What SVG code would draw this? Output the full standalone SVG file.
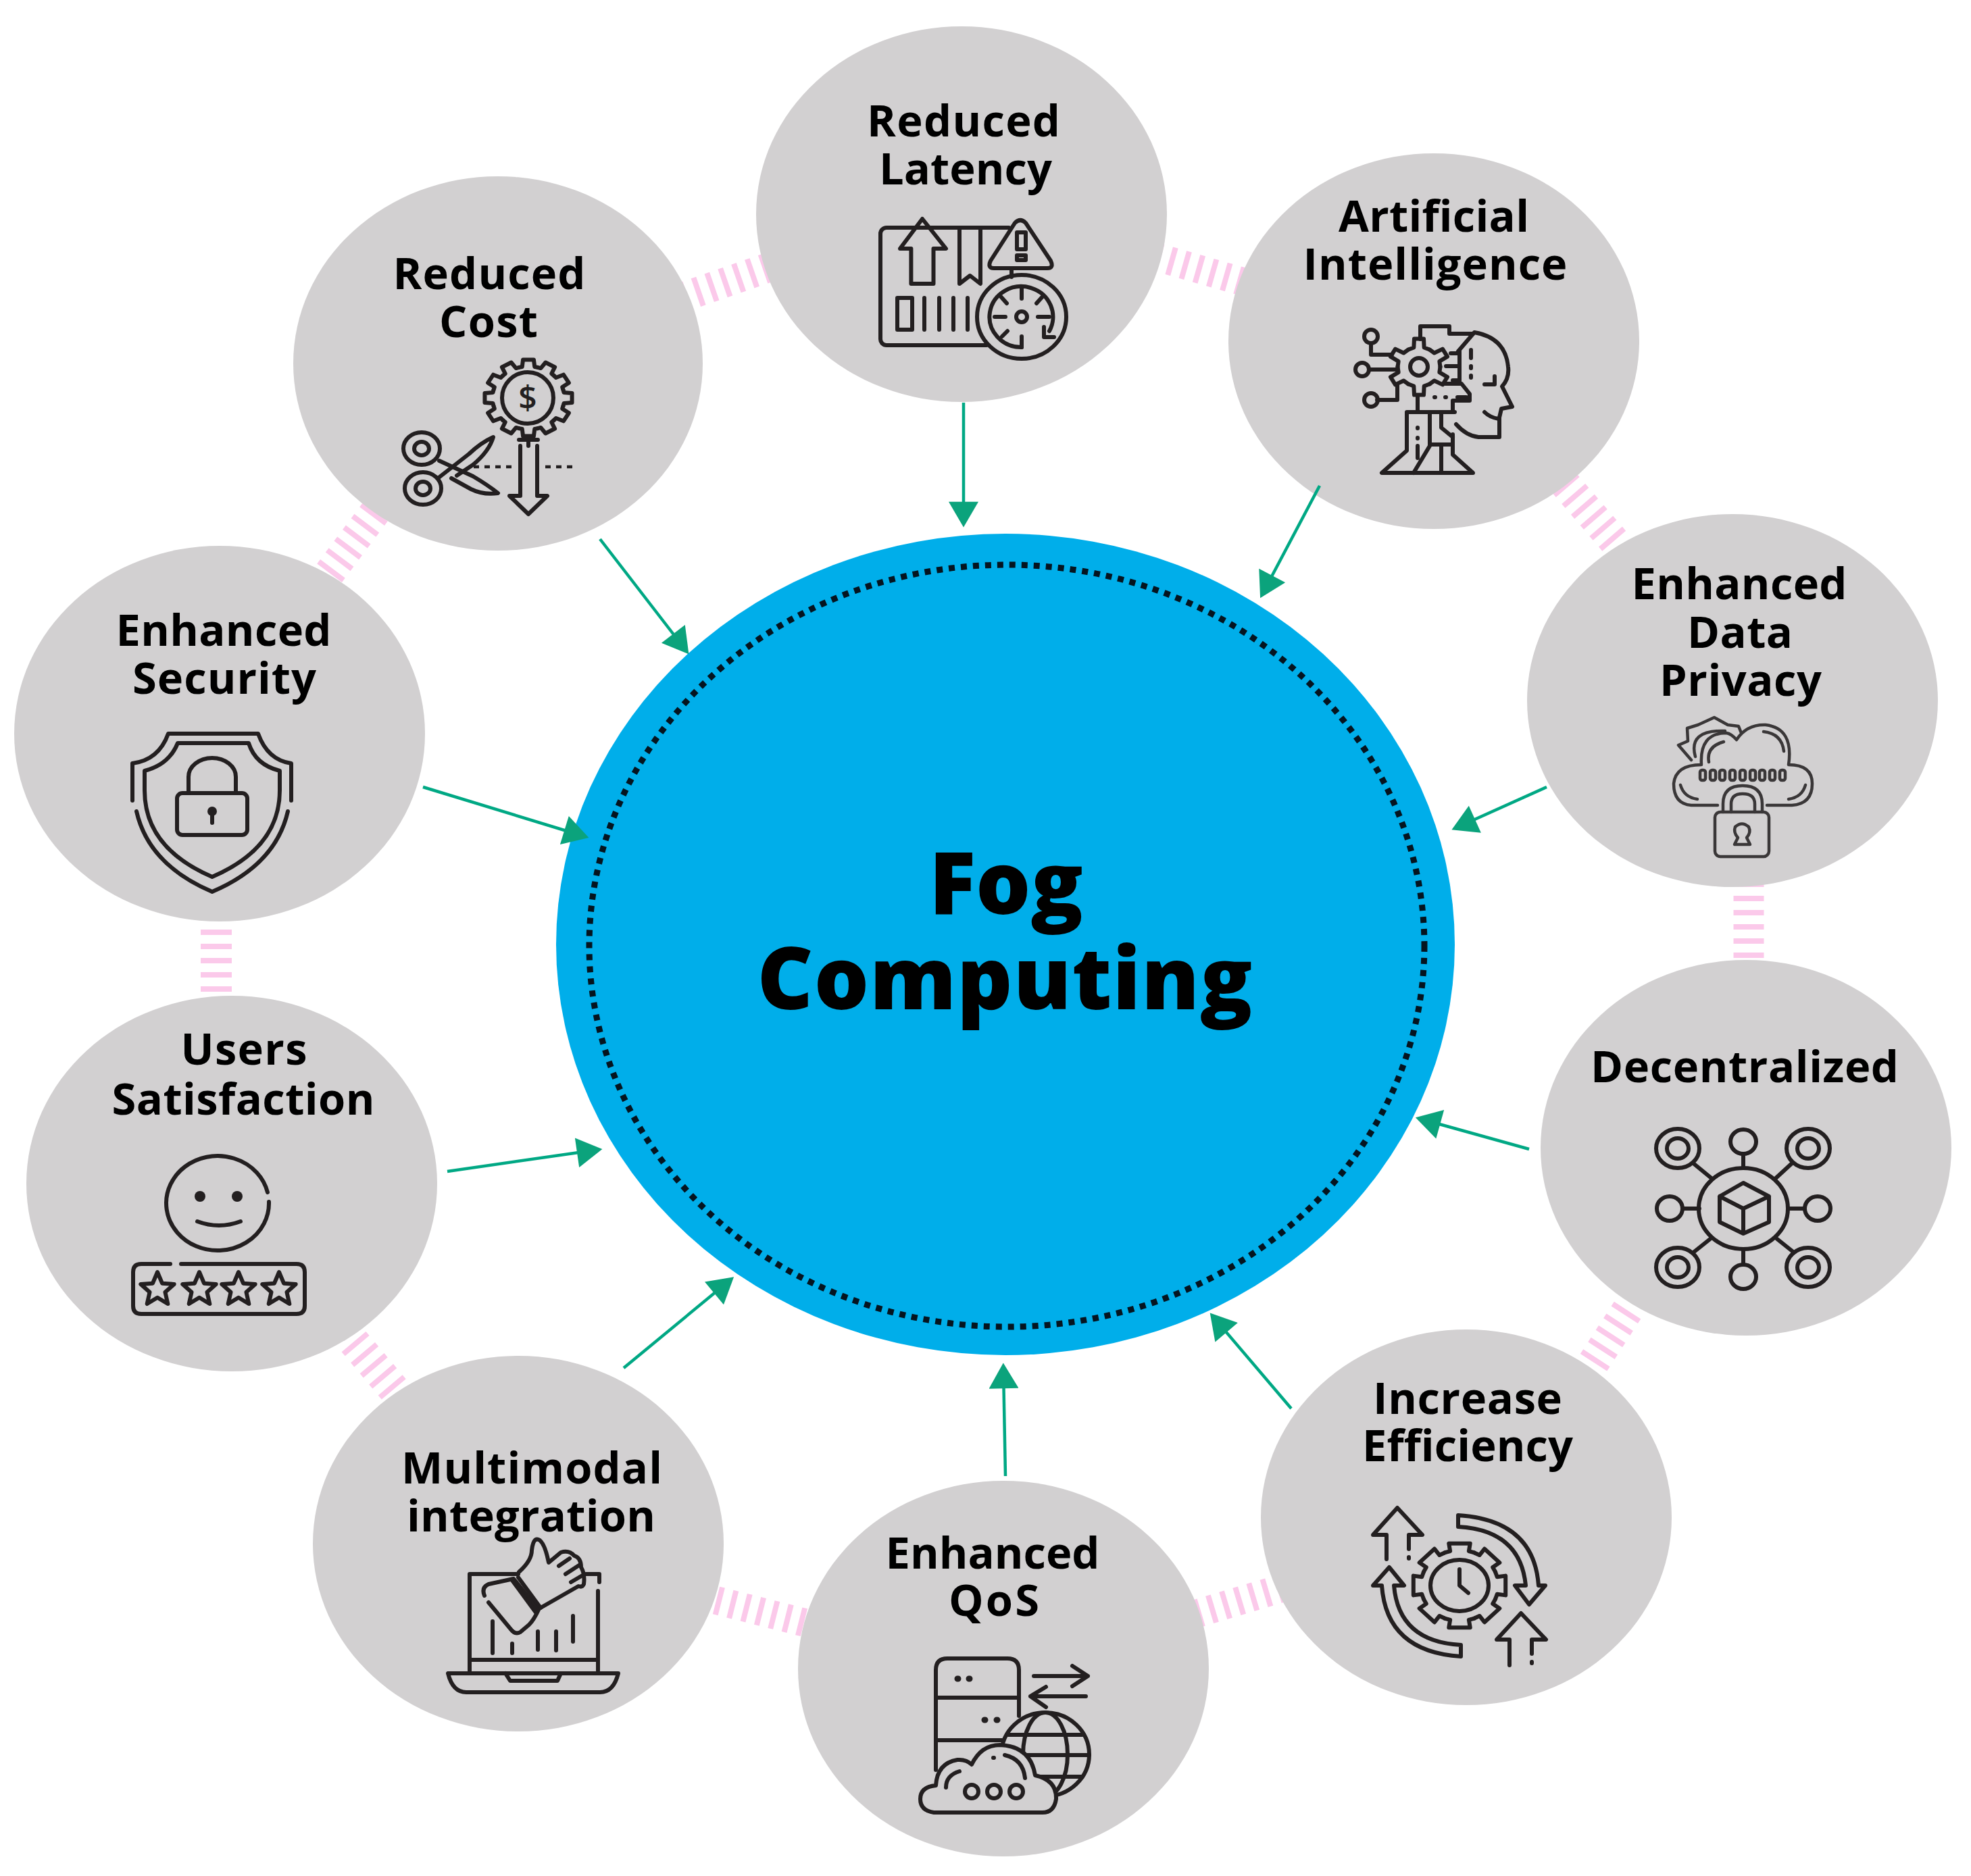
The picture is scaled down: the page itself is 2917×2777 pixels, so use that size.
<svg xmlns="http://www.w3.org/2000/svg" width="2917" height="2777" viewBox="0 0 2917 2777">
<style>
.bg{fill:#fff}
.n{fill:#d2d0d1}
.hub{fill:#00aeea}
.dots{fill:none;stroke:#05141f;stroke-width:9;stroke-dasharray:9 9}
.t{font-family:"Open Sans","Noto Sans",sans-serif;font-weight:700;font-size:65px;fill:#000;text-anchor:middle}
.h{font-family:"Open Sans","Noto Sans",sans-serif;font-weight:800;font-size:128px;fill:#000;text-anchor:middle}
.gp{fill:none;stroke:#231f20;stroke-width:6;stroke-linejoin:round;stroke-linecap:round;vector-effect:non-scaling-stroke}
.i path,.i rect,.i circle,.i ellipse,.i polyline,.i line,.i polygon{fill:none;stroke:#231f20;stroke-width:6;stroke-linejoin:round;stroke-linecap:round}
.i .f{fill:#231f20;stroke:none}
.i .g{fill:#d2d0d1}
.i .th{stroke-width:4.5;stroke:#3a3738}
.i .dt{stroke-dasharray:8 8;stroke-linecap:butt;stroke-width:4.5}
.ds{font-family:"Open Sans",sans-serif;font-weight:600;font-size:48px;fill:#231f20;text-anchor:middle}
.bar{fill:none;stroke:#fbc9ea;stroke-dasharray:8 13}
.ar{fill:none;stroke:#00a884;stroke-width:4.5}
</style>
<defs>
<marker id="ah" markerUnits="userSpaceOnUse" markerWidth="42" markerHeight="44" viewBox="0 0 36 42" refX="26" refY="21" orient="auto"><polygon points="0,0 36,21 0,42" fill="#0ba37c"/></marker>
<path id="s12" class="gp" d="M-21.2-79.2L-14.2-80.8-12.2-99.3 12.2-99.3 14.2-80.8 21.2-79.2"/>
<g id="g12"><use href="#s12"/><use href="#s12" transform="rotate(30)"/><use href="#s12" transform="rotate(60)"/><use href="#s12" transform="rotate(90)"/><use href="#s12" transform="rotate(120)"/><use href="#s12" transform="rotate(150)"/><use href="#s12" transform="rotate(180)"/><use href="#s12" transform="rotate(210)"/><use href="#s12" transform="rotate(240)"/><use href="#s12" transform="rotate(270)"/><use href="#s12" transform="rotate(300)"/><use href="#s12" transform="rotate(330)"/></g>
<path id="s8" class="gp" d="M-31.4-75.8L-19.8-79.6-22.5-97.4 22.5-97.4 19.8-79.6 31.4-75.8"/>
<g id="g8"><use href="#s8"/><use href="#s8" transform="rotate(45)"/><use href="#s8" transform="rotate(90)"/><use href="#s8" transform="rotate(135)"/><use href="#s8" transform="rotate(180)"/><use href="#s8" transform="rotate(225)"/><use href="#s8" transform="rotate(270)"/><use href="#s8" transform="rotate(315)"/></g>
<path id="s6" class="gp" d="M-35-60.6L-17-68-15.6-98.8 15.6-98.8 17-68 35-60.6"/>
<g id="g6"><use href="#s6"/><use href="#s6" transform="rotate(60)"/><use href="#s6" transform="rotate(120)"/><use href="#s6" transform="rotate(180)"/><use href="#s6" transform="rotate(240)"/><use href="#s6" transform="rotate(300)"/></g>
<polygon id="star" class="gp" points="0,-100 27,-36 95,-31 44,14 59,81 0,45 -59,81 -44,14 -95,-31 -27,-36"/>
</defs>
<rect class="bg" width="2917" height="2777"/>
<g id="connectors-links">
<line class="bar" stroke-width="44" x1="1010" y1="440" x2="1140" y2="395"/>
<line class="bar" stroke-width="42" x1="1710" y1="380" x2="1850" y2="420"/>
<line class="bar" stroke-width="46" x1="2315" y1="715" x2="2395" y2="808"/>
<line class="bar" stroke-width="45" x1="2588" y1="1305" x2="2588" y2="1430"/>
<line class="bar" stroke-width="47" x1="2420" y1="1922" x2="2350" y2="2030"/>
<line class="bar" stroke-width="42" x1="1770" y1="2389" x2="1900" y2="2350"/>
<line class="bar" stroke-width="42" x1="1060" y1="2369" x2="1195" y2="2403"/>
<line class="bar" stroke-width="47" x1="510" y1="1970" x2="590" y2="2065"/>
<line class="bar" stroke-width="46" x1="320" y1="1355" x2="320" y2="1485"/>
<line class="bar" stroke-width="46" x1="475" y1="865" x2="565" y2="745"/>
</g>
<g id="fog-computing">
<ellipse class="hub" cx="1488" cy="1398" rx="665" ry="608"/>
<ellipse class="dots" cx="1490" cy="1400" rx="618" ry="564"/>
<text class="h" x="1489" y="1353" textLength="228">Fog</text>
<text class="h" x="1487" y="1494" textLength="733">Computing</text>
</g>
<g id="reduced-latency">
<ellipse class="n" cx="1423" cy="317" rx="304" ry="278"/>
<text class="t" x="1426" y="202" textLength="286">Reduced</text>
<text class="t" x="1429" y="273" textLength="256">Latency</text>
<g class="i">
<path d="M1493 337H1312a9 9 0 0 0-9 9V502a9 9 0 0 0 9 9H1460"/>
<polygon points="1365,324 1400,368 1381.5,368 1381.5,420 1348.4,420 1348.4,368 1332,368"/>
<polyline points="1420,340 1420,420 1435.6,408 1451,420 1451,340"/>
<rect x="1328" y="441" width="22" height="47"/>
<path d="M1368 441V488M1390 441V488M1411 441V488M1432 441V488"/>
<path d="M1502 330Q1510 322 1518 330L1555 386Q1560 397 1550 397H1471Q1461 397 1466 386Z"/>
<rect x="1505" y="344" width="13" height="25"/><rect x="1505" y="378" width="13" height="7"/>
<path d="M1497 397V410"/>
<ellipse cx="1512" cy="469" rx="66" ry="62"/>
<path d="M1512 514A47 45 0 1 1 1553 490"/>
<circle cx="1512" cy="469" r="8"/>
<path d="M1512 426V442M1472 469H1488M1536 469H1553M1512 498V514M1482 440L1490 449M1542 440L1534 449M1483 498L1491 490M1545 484V499H1560"/>
</g>
</g>
<g id="artificial-intelligence">
<ellipse class="n" cx="2122" cy="505" rx="304" ry="278"/>
<text class="t" x="2122" y="343" textLength="282">Artificial</text>
<text class="t" x="2124" y="414" textLength="391">Intelligence</text>
<g class="i">
<use href="#g6" transform="translate(2100 543) scale(.45 .42)"/>
<ellipse cx="2100" cy="543" rx="13" ry="13"/>
<circle cx="2029" cy="498" r="10"/><circle cx="2016" cy="547" r="10"/><circle cx="2029" cy="592" r="10"/>
<path d="M2029 508V525H2060M2027 547H2068M2038 592H2068V570"/>
<path d="M2102 502V483H2145V494H2180"/>
<path d="M2158 520L2182 492Q2228 500 2232 543Q2234 560 2223 572L2238 602 2222 605 2219 618V647H2188Q2170 645 2155 628"/>
<path d="M2160 520V567M2177 518V530M2177 542V545M2177 556V559"/>
<path d="M2197 569H2212V557M2197 610Q2205 618 2218 620"/>
<path d="M2140 542H2160M2147 523H2160M2150 563H2160"/>
<path d="M2138 568H2163L2175 583V593H2150V608M2123 588h1M2139 588h1M2157 588H2170"/>
<path d="M2098 585V608M2082 610H2153M2082 610V667L2045 700H2180L2150 673V643"/>
<path d="M2116 610V660L2092 700M2098 660V678M2098 633v1M2098 648v1M2133 610V633L2150 647M2118 658H2147M2133 660V700"/>
</g>
</g>
<g id="enhanced-data-privacy">
<ellipse class="n" cx="2564" cy="1037" rx="304" ry="276"/>
<text class="t" x="2574" y="887" textLength="319">Enhanced</text>
<text class="t" x="2575" y="959" textLength="156">Data</text>
<text class="t" x="2576" y="1030" textLength="240">Privacy</text>
<g class="i">
<polyline class="th" points="2503,1125 2484,1103 2498,1097 2497,1078 2513,1073 2537,1062 2557,1073 2573,1075 2577,1085"/>
<path class="th" d="M2509 1120Q2498 1080 2553 1082"/>
<path class="th" d="M2542 1192H2503Q2477 1190 2477 1160Q2480 1132 2518 1132Q2515 1085 2555 1085Q2562 1086 2570 1095Q2585 1072 2613 1073Q2655 1078 2647 1132Q2682 1132 2682 1160Q2682 1190 2652 1192H2615"/>
<path class="th" d="M2529 1128Q2525 1105 2551 1098M2610 1083Q2637 1086 2640 1112M2487 1162Q2492 1180 2512 1183M2672 1162Q2667 1180 2647 1183"/>
<rect class="th" x="2516" y="1140" width="8" height="15" rx="3"/><rect class="th" x="2531" y="1140" width="8" height="15" rx="3"/><rect class="th" x="2545" y="1140" width="8" height="15" rx="3"/><rect class="th" x="2560" y="1140" width="8" height="15" rx="3"/><rect class="th" x="2575" y="1140" width="8" height="15" rx="3"/><rect class="th" x="2590" y="1140" width="8" height="15" rx="3"/><rect class="th" x="2604" y="1140" width="8" height="15" rx="3"/><rect class="th" x="2619" y="1140" width="8" height="15" rx="3"/><rect class="th" x="2634" y="1140" width="8" height="15" rx="3"/>
<rect class="th" x="2538" y="1202" width="80" height="66" rx="8"/>
<path class="th" d="M2550 1202V1190Q2550 1163 2579 1163Q2608 1163 2608 1190V1202M2562 1202V1190Q2562 1175 2579 1175Q2597 1175 2597 1190V1202"/>
<path class="th" d="M2567 1250H2590L2585 1240Q2592 1232 2588 1224Q2578 1215 2568 1224Q2565 1232 2572 1240Z"/>
</g>
</g>
<g id="decentralized">
<ellipse class="n" cx="2584" cy="1699" rx="304" ry="278"/>
<text class="t" x="2582" y="1602" textLength="456">Decentralized</text>
<g class="i">
<ellipse cx="2580" cy="1789" rx="66" ry="60"/>
<path d="M2580 1751L2618 1771V1809L2580 1826 2545 1809V1771ZM2545 1771L2580 1789 2618 1771M2580 1789V1826"/>
<ellipse cx="2580" cy="1690" rx="19" ry="18"/><ellipse cx="2580" cy="1890" rx="19" ry="18"/><ellipse cx="2471" cy="1789" rx="19" ry="18"/><ellipse cx="2690" cy="1789" rx="19" ry="18"/>
<ellipse cx="2483" cy="1700" rx="32" ry="29"/><ellipse cx="2483" cy="1700" rx="16" ry="15"/>
<ellipse cx="2676" cy="1700" rx="32" ry="29"/><ellipse cx="2676" cy="1700" rx="16" ry="15"/>
<ellipse cx="2483" cy="1876" rx="32" ry="29"/><ellipse cx="2483" cy="1876" rx="16" ry="15"/>
<ellipse cx="2676" cy="1876" rx="32" ry="29"/><ellipse cx="2676" cy="1876" rx="16" ry="15"/>
<path d="M2580 1709V1729M2580 1849V1871M2490 1789H2515M2648 1789H2671M2506 1722L2534 1745M2652 1722L2627 1745M2506 1854L2531 1834M2655 1854L2630 1834"/>
</g>
</g>
<g id="increase-efficiency">
<ellipse class="n" cx="2170" cy="2246" rx="304" ry="278"/>
<text class="t" x="2172" y="2093" textLength="280">Increase</text>
<text class="t" x="2172" y="2163" textLength="312">Efficiency</text>
<g class="i">
<use href="#g8" transform="translate(2160 2347) scale(.7 .64)"/>
<ellipse cx="2160" cy="2347" rx="43" ry="38"/>
<path d="M2160 2323V2347L2173 2358"/>
<path d="M2158 2243Q2270 2250 2277 2347H2287L2263 2375 2242 2347H2258Q2250 2265 2158 2260Z"/>
<path d="M2162 2452Q2052 2445 2045 2347H2032L2056 2320 2078 2347H2063Q2070 2430 2162 2435Z"/>
<path d="M2052 2308V2272H2032L2068 2232 2105 2272H2085V2293M2085 2305v2"/>
<path d="M2234 2465V2427H2215L2251 2388 2288 2427H2267V2448M2267 2460v2"/>
</g>
</g>
<g id="enhanced-qos">
<ellipse class="n" cx="1485" cy="2470" rx="304" ry="278"/>
<text class="t" x="1469" y="2322" textLength="317">Enhanced</text>
<text class="t" x="1471" y="2392" textLength="134">QoS</text>
<g class="i">
<path d="M1385 2620V2472Q1385 2455 1402 2455H1491Q1508 2455 1508 2472V2540M1385 2513H1508M1385 2576H1483"/>
<path d="M1417 2485h1M1434 2485h1M1457 2546h1M1475 2546h1" style="stroke-width:9"/>
<path d="M1530 2481H1610M1587 2466L1610 2481 1587 2496M1607 2511H1525M1548 2497L1525 2511 1548 2527"/>
<ellipse cx="1547" cy="2597" rx="65" ry="62"/><ellipse cx="1547" cy="2597" rx="33" ry="62"/>
<path d="M1492 2568H1602M1482 2598H1612M1492 2630H1602"/>
<path class="g" d="M1382 2683Q1362 2680 1362 2663Q1362 2645 1385 2643Q1387 2610 1417 2605Q1430 2604 1438 2612Q1452 2583 1480 2583Q1525 2585 1532 2628Q1564 2635 1563 2663Q1560 2683 1543 2683Z"/>
<path d="M1400 2646Q1400 2628 1420 2622M1487 2598Q1514 2604 1517 2632M1470 2602h1"/>
<circle cx="1438" cy="2652" r="10"/><circle cx="1471" cy="2652" r="10"/><circle cx="1504" cy="2652" r="10"/>
</g>
</g>
<g id="multimodal-integration">
<ellipse class="n" cx="767" cy="2285" rx="304" ry="278"/>
<text class="t" x="787" y="2196" textLength="386">Multimodal</text>
<text class="t" x="786" y="2267" textLength="368">integration</text>
<g class="i">
<path d="M695 2473V2330H767M867 2330H887V2342M885 2355V2473M695 2457H885"/>
<path d="M663 2477H915Q908 2505 888 2505H690Q670 2505 663 2477ZM748 2477L755 2488H825L830 2477"/>
<path d="M729 2400V2447M758 2433V2447M796 2415V2442M823 2415V2443M848 2392V2430"/>
<path d="M717 2362Q712 2350 723 2345L760 2337 797 2383Q790 2398 783 2405L770 2416Q763 2420 757 2413L723 2372"/>
<path d="M757 2338L793 2387M767 2335L800 2380"/>
<path d="M768 2327Q787 2310 787 2295Q789 2276 797 2279Q806 2283 812 2313L830 2298Q842 2294 850 2303Q860 2306 860 2320Q866 2330 864 2345Q862 2350 856 2348L800 2380"/>
<path d="M827 2318L843 2307M837 2330L857 2317M845 2342L862 2332"/>
</g>
</g>
<g id="users-satisfaction">
<ellipse class="n" cx="343" cy="1752" rx="304" ry="278"/>
<text class="t" x="361" y="1576" textLength="187">Users</text>
<text class="t" x="360" y="1650" textLength="389">Satisfaction</text>
<g class="i">
<path d="M398 1779A76 70 0 1 1 396 1765"/>
<circle class="f" cx="296" cy="1771" r="8"/><circle class="f" cx="351" cy="1771" r="8"/>
<path d="M292 1808Q324 1820 356 1808"/>
<path d="M252 1871H209Q197 1871 197 1883V1933Q197 1945 209 1945H439Q451 1945 451 1933V1883Q451 1871 439 1871H268"/>
<use href="#star" transform="translate(233 1909) scale(.26)"/><use href="#star" transform="translate(295 1909) scale(.26)"/><use href="#star" transform="translate(353 1909) scale(.26)"/><use href="#star" transform="translate(413 1909) scale(.26)"/>
</g>
</g>
<g id="enhanced-security">
<ellipse class="n" cx="325" cy="1086" rx="304" ry="278"/>
<text class="t" x="331" y="956" textLength="319">Enhanced</text>
<text class="t" x="332" y="1027" textLength="272">Security</text>
<g class="i">
<path d="M196 1185V1130Q235 1125 249 1086H382Q396 1125 431 1130V1185M202 1201Q220 1280 314 1320Q408 1280 426 1201"/>
<path d="M263 1100H368Q378 1132 414 1141V1170Q414 1255 314 1298Q214 1255 214 1170V1141Q250 1132 263 1100Z"/>
<rect x="262" y="1174" width="104" height="62" rx="8"/>
<path d="M279 1174V1150A35 28 0 0 1 349 1150V1174"/>
<circle class="f" cx="314" cy="1201" r="7"/><path d="M314 1204V1218"/>
</g>
</g>
<g id="reduced-cost">
<ellipse class="n" cx="737" cy="538" rx="303" ry="277"/>
<text class="t" x="724" y="428" textLength="285">Reduced</text>
<text class="t" x="723" y="499" textLength="146">Cost</text>
<g class="i">
<use href="#g12" transform="translate(782 589) scale(.65 .57)"/>
<ellipse cx="781" cy="589" rx="38" ry="38"/>
<path d="M782 646V660M768 651H796M770 660V734H754L782 761 810 734H795V660"/>
<path class="dt" d="M701 691H758M807 691H847"/>
<ellipse cx="624" cy="664" rx="27" ry="24"/><ellipse cx="624" cy="664" rx="11" ry="10"/>
<ellipse cx="626" cy="723" rx="27" ry="24"/><ellipse cx="626" cy="723" rx="11" ry="10"/>
<path d="M648 708L694 672Q712 655 730 647Q724 668 700 688L676 704"/>
<path d="M650 682L700 705Q722 718 737 730Q715 733 697 724L668 708"/>
</g>
<text class="ds" x="781" y="606">$</text>
</g>
<g id="connectors">
<line class="ar" marker-end="url(#ah)" x1="1426" y1="596" x2="1426" y2="770"/>
<line class="ar" marker-end="url(#ah)" x1="1953" y1="719" x2="1870" y2="876"/>
<line class="ar" marker-end="url(#ah)" x1="2289" y1="1165" x2="2158" y2="1224"/>
<line class="ar" marker-end="url(#ah)" x1="2263" y1="1701" x2="2105" y2="1657"/>
<line class="ar" marker-end="url(#ah)" x1="1911" y1="2085" x2="1797.5" y2="1951.6"/>
<line class="ar" marker-end="url(#ah)" x1="1488" y1="2185" x2="1485" y2="2028"/>
<line class="ar" marker-end="url(#ah)" x1="923" y1="2025" x2="1078" y2="1897"/>
<line class="ar" marker-end="url(#ah)" x1="662" y1="1734" x2="881" y2="1702.4"/>
<line class="ar" marker-end="url(#ah)" x1="626" y1="1165" x2="861.4" y2="1237"/>
<line class="ar" marker-end="url(#ah)" x1="888" y1="798" x2="1013" y2="960"/>
</g>
</svg>
